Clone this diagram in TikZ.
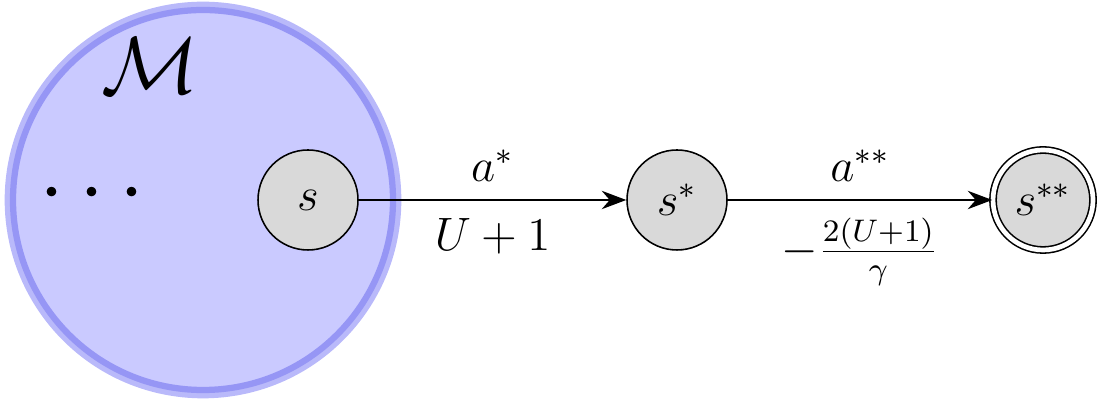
\documentclass[tikz,border=0pt]{standalone}
\usetikzlibrary{arrows.meta}
\definecolor{band}{RGB}{185,185,250}
\definecolor{ring}{RGB}{150,150,245}
\definecolor{inner}{RGB}{202,202,255}
\begin{document}
\begin{tikzpicture}[x=1cm,y=1cm,
  st/.style={circle,draw,fill=black!15,minimum size=0.9cm,inner sep=0pt,font=\large},
  lbl/.style={font=\large},
  edge/.style={-{Stealth[length=2.2mm]},line width=0.6pt}]
\useasboundingbox (0,0) rectangle (9.873,3.609);
\fill[band] (1.827,1.809) circle (1.785);
\fill[inner] (1.827,1.809) circle (1.71);
\draw[ring,line width=1.6pt] (1.827,1.809) circle (1.71);
\node[font=\huge] (M) at (1.35,3.02) {$\mathcal{M}$};
\node[scale=2.3] (dots) at (0.83,1.86) {$\cdots$};
\node[st] (s) at (2.772,1.809) {$s$};
\node[st] (s1) at (6.093,1.809) {$s^*$};
\node[st,double,double distance=1.2pt] (s2) at (9.387,1.809) {$s^{**}$};
\draw[edge] (s) -- node[lbl,above=1pt]{$a^*$} node[lbl,below=1pt]{$U+1$} (s1);
\draw[edge] (s1) -- node[lbl,above=1pt]{$a^{**}$} node[lbl,below=1pt]{$-\frac{2(U+1)}{\gamma}$} (s2);
\end{tikzpicture}
\end{document}
